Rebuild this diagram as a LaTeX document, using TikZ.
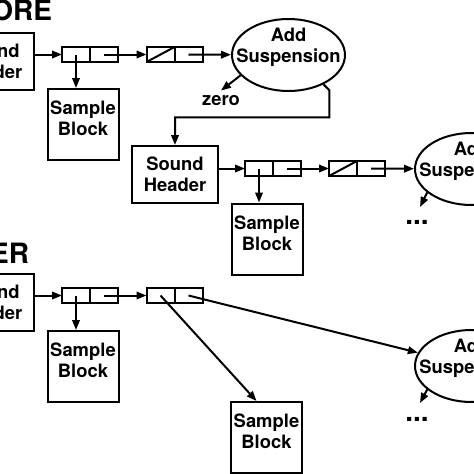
\documentclass[tikz,border=0pt]{standalone}
\usepackage{fontspec}
\setmainfont{TeX Gyre Heros}
\usetikzlibrary{arrows.meta,shapes.geometric,positioning}
\begin{document}
\begin{tikzpicture}[x=1pt, y=-1pt, line width=2pt,
  every node/.style={font=\bfseries\fontsize{18.4}{21}\selectfont},
  arr/.style={-{Triangle[length=10pt,width=7.5pt]}},
  title/.style={font=\bfseries\fontsize{28}{30}\selectfont, anchor=base east, inner sep=0pt},
  header/.style={draw, minimum width=86pt, minimum height=57pt, align=center, inner sep=0pt},
  sample/.style={draw, minimum width=71pt, minimum height=71pt,
    label={[align=center, yshift=6pt]center:{Sample\\Block}}},
  cell/.style={draw, minimum width=28pt, minimum height=15pt, inner sep=0pt, outer sep=0pt},
  susp/.style={draw, ellipse, minimum width=113pt, minimum height=72pt, inner sep=0pt,
    label={[align=center, yshift=8pt]center:{Add\\Suspension}}},
  dots/.style={font=\bfseries\fontsize{28}{30}\selectfont}]
\useasboundingbox (0,0) rectangle (474,474);
\clip (0,0) rectangle (474,474);

% Titles
\node[title] (before) at (53,20) {BEFORE};
\node[title] (after) at (30,263) {AFTER};

% Before: first sound and its list
\node[header] (hd1) at (-9,61.5) {Sound\\Header};
\node[cell] (l1a) at (76,54.5) {};
\node[cell, right=0pt of l1a] (l1b) {};
\node[sample] (sb1) at (83,124.5) {};
\node[cell] (l2a) at (160.5,54.5) {};
\node[cell, right=0pt of l2a] (l2b) {};
\node[susp] (s1) at (288.5,55) {};
\node[anchor=base] (zl) at (221,105) {zero};

\draw[arr] (hd1.east |- l1a) -- (l1a.west);
\draw[arr] (l1a.center) -- (l1a.center |- sb1.north);
\draw[arr] (l1b.center) -- (l2a.west);
\draw (l2a.south west) -- (l2a.north east);
\draw[arr] (l2b.center) -- (s1);
\draw[arr] (s1.203) -- (zl.north);

% Before: second sound
\node[header] (hd2) at (175,174.5) {Sound\\Header};
\node[cell] (l3a) at (259,168.5) {};
\node[cell, right=0pt of l3a] (l3b) {};
\node[sample] (sb2) at (267,239) {};
\node[cell] (l4a) at (343,168.5) {};
\node[cell, right=0pt of l4a] (l4b) {};
\node[susp] (s2) at (471.5,169) {};
\node[dots] (dt2) at (417,222) {...};
\coordinate (z2) at (420,207);

\draw[arr] (s1.320) -- ++(6,6) -- ++(0,27) -| (hd2.north);
\draw[arr] (hd2.east |- l3a) -- (l3a.west);
\draw[arr] (l3a.center) -- (l3a.center |- sb2.north);
\draw[arr] (l3b.center) -- (l4a.west);
\draw (l4a.south west) -- (l4a.north east);
\draw[arr] (l4b.center) -- (s2);
\draw[arr] (s2.208) -- (z2);

% After
\node[header] (hd3) at (-9,302.5) {Sound\\Header};
\node[cell] (l5a) at (76,295.5) {};
\node[cell, right=0pt of l5a] (l5b) {};
\node[sample] (sb3) at (83,366.5) {};
\node[cell] (l6a) at (160.5,295.5) {};
\node[cell, right=0pt of l6a] (l6b) {};
\node[sample] (sb4) at (266.5,437.5) {};
\node[susp] (s3) at (471.5,366) {};
\node[dots] (dt3) at (417,419) {...};
\coordinate (z3) at (420,403);

\draw[arr] (hd3.east |- l5a) -- (l5a.west);
\draw[arr] (l5a.center) -- (l5a.center |- sb3.north);
\draw[arr] (l5b.center) -- (l6a.west);
\draw[arr] (l6a.center) -- ([xshift=-10pt]sb4.north);
\draw[arr] (l6b.center) -- (s3);
\draw[arr] (s3.208) -- (z3);
\end{tikzpicture}
\end{document}
